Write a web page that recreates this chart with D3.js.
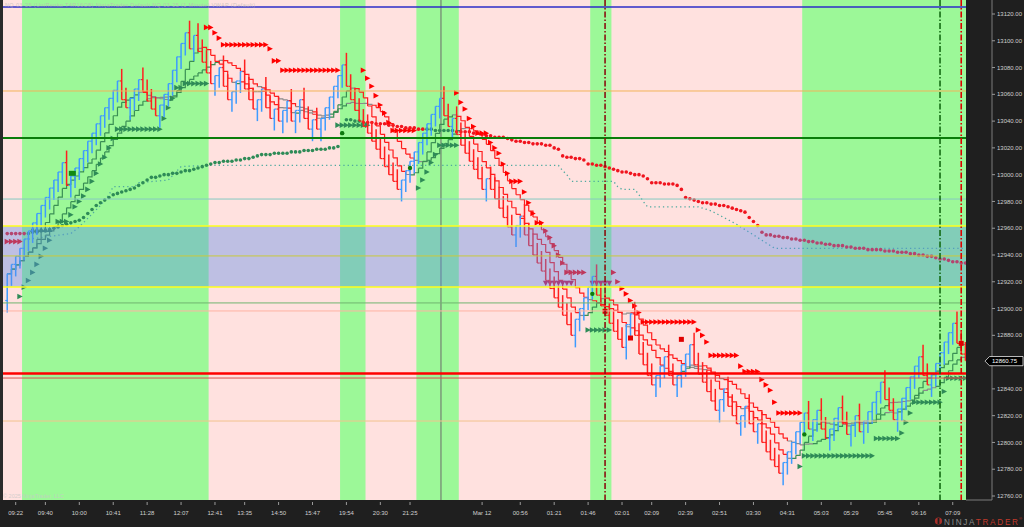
<!DOCTYPE html>
<html><head><meta charset="utf-8">
<script src="https://cdn.jsdelivr.net/npm/d3@7"></script>
<style>html,body{margin:0;padding:0;background:#1f1f1f;overflow:hidden}svg{display:block;font-family:"Liberation Sans",Arial,sans-serif}</style>
</head><body><svg id="c" width="1024" height="527"></svg>
<script>
// ---------------- DATA ----------------
const closes = [
 12926,12933,12939,12945,12952,12958,12964,12971,12977,12983,
 12990,12996,13002,13009,12992,12999,13005,13012,13018,13025,
 13031,13038,13044,13050,13057,13063,13070,13056,13050,13057,
 13064,13071,13062,13055,13049,13044,13052,13060,13068,13078,
 13088,13098,13106,13094,13104,13092,13084,13076,13068,13074,
 13080,13066,13056,13062,13070,13077,13064,13056,13049,13056,
 13064,13050,13042,13049,13040,13048,13055,13040,13048,13056,
 13042,13034,13041,13034,13042,13050,13058,13066,13074,13082,
 13066,13056,13048,13040,13036,13031,13025,13019,13012,13006,
 13000,12995,12989,12996,13003,13010,13017,13024,13031,13038,
 13045,13051,13057,13044,13036,13042,13030,13022,13016,13010,
 13004,12997,12989,12997,12989,12982,12975,12968,12961,12955,
 12962,12969,12955,12947,12940,12934,12928,12921,12915,12908,
 12901,12895,12888,12880,12892,12900,12908,12916,12924,12910,
 12902,12895,12889,12883,12877,12871,12888,12896,12880,12866,
 12858,12850,12843,12850,12857,12864,12850,12843,12850,12858,
 12866,12873,12858,12851,12845,12838,12831,12824,12832,12840,
 12827,12820,12814,12820,12827,12814,12808,12814,12800,12793,
 12787,12782,12777,12785,12793,12800,12808,12815,12822,12810,
 12817,12824,12810,12803,12810,12818,12826,12814,12806,12813,
 12820,12808,12816,12823,12830,12838,12845,12832,12824,12817,
 12825,12833,12841,12849,12857,12864,12850,12843,12851,12859,
 12867,12875,12882,12889,12874,12866,12861];
const firstOpen = 12906;

const vwap = [
 12956,12956,12956,12956,12956,12956,
 12957,12957,12958,12958,12959,12960,12961,12962,12963,12964,12965,12966,12968,12971,
 12974,12977,12979,12981,12983,12985,12986,12987,12988,12989,12990,12992,12994,12996,
 12998,12998,12999,13000,13000,13001,13001,13002,13003,13003,13004,13005,13006,13007,
 13008,13009,13009,13010,13010,13010,13011,13011,13012,13012,13013,13014,13015,13015,
 13015,13016,13016,13016,13016,13017,13017,13017,13018,13018,13018,13019,13019,13019,
 13020,13020,13021,
 13031,
 13041,13041,13040,13040,13039,13039,13039,13038,13038,13038,13037,13037,13036,13036,13035,13035,13035,
 13034,13034,13034,13034,13033,13033,13033,13033,13033,13032,13032,13032,13032,
 13031,13031,13030,
 13029,13029,13028,13028,13028,13027,
 13026,13025,13025,13024,
 13024,13023,13023,13023,13022,13022,
 13020,13019,
 13014,13013,13013,13012,13012,13011,
 13008,13008,13007,13007,13006,
 13005,13004,
 13003,13002,13002,
 13001,13000,13000,12999,
 12997,
 12994,12994,12994,12993,12993,12993,12992,
 12989,
 12983,12982,12981,12980,
 12979,12979,12978,12978,12977,12977,12976,
 12975,12974,12973,12972,
 12968,12965,12962,
 12957,
 12955,12955,12954,12954,12953,12953,12952,12952,
 12951,12951,12950,12950,12949,12949,
 12948,12948,12947,12947,12947,12946,12946,
 12945,12945,12945,12944,12944,12944,12944,
 12943,12943,12943,12942,12942,12942,
 12941,12941,12940,12940,12939,12939,
 12938,12937,12937,12936,
 12935,12935,12934,12934];

// teal reference line vertices [bar, price]
const tealLine = [[3,12951],[15,12956],[17,12961],[22,12977],[24,12985],[25,12991],[30,12991],[31,12994],
 [38,12996],[41,13006],[47,13007],[130,13007],[131,13003],[132,13000],[133,12995],[143,12995],[144,12991],
 [145,12989],[148,12989],[149,12985],[150,12980],[151,12976],[163,12976],[166,12973],[169,12968],[172,12963],
 [176,12955],[179,12949],[181,12945],[226,12945]];

// trailing stop runs [fromBar, toBar, price]
const redTrail = [[0,3,12950],[47,48,13110],[49,49,13106],[50,50,13102],[51,61,13097],[62,62,13094],[63,64,13085],
 [65,78,13078],[84,84,13078],[85,85,13072],[86,86,13066],[87,87,13059],[88,88,13052],[89,89,13046],[90,90,13039],
 [91,96,13033],[106,106,13061],[107,107,13054],[108,108,13049],[109,109,13042],[110,110,13036],[111,113,13031],
 [114,114,13024],[115,115,13020],[116,116,13016],[117,117,13008],[118,118,13001],[119,121,12995],[122,122,12987],
 [123,123,12979],[124,124,12971],[125,126,12964],[127,127,12958],[128,128,12953],[129,129,12947],[130,130,12940],
 [131,131,12934],[132,136,12927],[143,143,12927],[144,144,12920],[145,145,12915],[146,146,12911],[147,147,12906],
 [148,148,12902],[149,149,12897],[150,162,12890],[163,163,12884],[164,164,12880],[165,165,12875],[166,172,12865],
 [173,173,12857],[174,177,12853],[178,178,12847],[179,179,12843],[180,180,12839],[181,181,12830],[182,187,12822]];
const greenTrail = [[3,3,12909],[4,4,12916],[5,5,12921],[6,6,12927],[7,7,12933],[8,8,12939],[9,9,12945],[10,10,12951],
 [12,14,12965],[15,15,12970],[16,16,12976],[17,17,12980],[18,18,12984],[19,19,12989],[20,20,12995],[21,21,13001],
 [22,22,13008],[23,23,13013],[24,24,13020],[25,25,13027],[26,36,13034],[37,37,13042],[38,38,13050],[39,39,13057],
 [40,41,13065],[42,47,13068],[78,85,13037],[97,97,12990],[98,98,12996],[99,99,13002],[100,100,13009],[101,101,13015],
 [102,106,13022],[137,142,12884],[187,187,12782],[188,204,12790],[205,210,12803],[211,211,12807],[212,212,12815],
 [213,213,12822],[214,220,12830],[221,221,12838],[222,226,12848]];
const greenCluster = [[6,10,12959]];
const redCluster = [[127,133,12919],[138,142,12919]];
const sellFlags = [[141,12898],[147,12878],[159,12877],[225,12874]];
const buyFlags = [[15,13001]];
const markDots = [[95,13005],[138,12911],[188,12806],[79,13031]];

const sessionBands = [[4,47],[79,84],[97,106],[138,142],[188,226]];
const levelPrices = [13125.2,13062.5,13027.4,12981.8,12939.3,12904.2,12898.2,12851.5,12848.1,12816.0];
const zoneTop = 12961.7, zoneBottom = 12916.1;
const vLines = [102.3,141,220,225];

const priceTicks = [12760,12780,12800,12820,12840,12860,12880,12900,12920,12940,12960,12980,13000,13020,13040,13060,13080,13100,13120];
const tickBars = [2,9,17,25,33,41,49,56,64,72,80,88,95,112,121,129,137,145,152,160,168,176,184,192,199,207,215,223];
const tickLabels = ["09:22","09:40","10:00","10:41","11:28","12:07","12:41","13:35","14:50","15:47","19:54","20:30","21:25","Mar 12","00:56","01:21","01:46","02:01","02:09","02:39","02:51","03:30","04:31","05:03","05:29","05:45","06:16","07:09"];
const lastPrice = 12860.75;

// ---------------- STYLES ----------------
const levelStyle = [
 {c:"#2d2dc8",w:1.4},{c:"#f3b45a",w:1},{c:"#0a7d0a",w:2},{c:"#86c9c2",w:1},{c:"#c9c93c",w:1},
 {c:"#6fb46f",w:1},{c:"#ffb2a4",w:1},{c:"#ff0000",w:2.6},{c:"#d85050",w:1},{c:"#f2c48e",w:1}];
const vStyle = [{c:"#6a6a6a",w:1,d:null},{c:"#8a1212",w:1.6,d:"6,2,1.5,2"},{c:"#146b14",w:1.6,d:"6,2,1.5,2"},{c:"#e00000",w:1.6,d:"6,2,1.5,2"}];

// ---------------- CHART ----------------
const svg = d3.select("#c");
const PL = 3, PR = 966, PT = 0, PB = 500;
const x = d3.scaleLinear().domain([0, 226]).range([7.22, 965.46]);
const y = d3.scaleLinear().domain([12760, 13120]).range([496, 14]);

svg.append("rect").attr("width", 1024).attr("height", 527).attr("fill", "#1f1f1f");
svg.append("defs").append("clipPath").attr("id", "pc")
  .append("rect").attr("x", PL).attr("y", PT).attr("width", PR - PL).attr("height", PB - PT);
const g = svg.append("g").attr("clip-path", "url(#pc)");

g.append("rect").attr("x", PL).attr("y", PT).attr("width", PR - PL).attr("height", PB - PT).attr("fill", "#ffe1df");
g.selectAll(".band").data(sessionBands).join("rect")
  .attr("x", d => x(d[0] - 0.5)).attr("width", d => x(d[1] + 0.5) - x(d[0] - 0.5))
  .attr("y", PT).attr("height", PB - PT).attr("fill", "#9cf898");

// crosshair vertical (under)
g.append("line").attr("x1", x(vLines[0])).attr("x2", x(vLines[0])).attr("y1", PT).attr("y2", PB)
  .attr("stroke", vStyle[0].c).attr("stroke-width", vStyle[0].w);

// teal dotted line
g.append("path").datum(tealLine)
  .attr("d", d3.line().x(d => x(d[0])).y(d => y(d[1])))
  .attr("fill", "none").attr("stroke", "#4faaa0").attr("stroke-width", 1.3).attr("stroke-dasharray", "1.3,3");

// VWAP dots
g.selectAll(".vw").data(vwap.map((v, i) => ({i, v}))).join("circle")
  .attr("cx", d => x(d.i)).attr("cy", d => y(d.v)).attr("r", 1.8)
  .attr("fill", d => closes[d.i] >= d.v ? "#2e8b57" : "#f0141e");

// moving averages (stepped, colored by slope)
function sma(n) { return closes.map((c, i) => d3.mean(closes.slice(Math.max(0, i - n + 1), i + 1))); }
const maFast = sma(7), maSlow = sma(13);
[maSlow, maFast].forEach(ma => {
  const segs = ma.slice(1).map((v, k) => ({i: k + 1, a: ma[k], b: v}));
  g.selectAll(null).data(segs).join("path")
    .attr("d", d => `M${x(d.i - 1)},${y(d.a)}H${x(d.i)}V${y(d.b)}`)
    .attr("fill", "none").attr("stroke-width", 1.2)
    .attr("stroke", d => d.b - d.a > 1.2 ? "#3a8f55" : (d.b - d.a < -1.2 ? "#ff1c1c" : "#8a8a8a"));
});

// trailing-stop triangles
function expand(runs) { const out = []; runs.forEach(r => { for (let i = r[0]; i <= r[1]; i++) out.push([i, r[2]]); }); return out; }
const triR = d => `M${x(d[0]) - 2.6},${y(d[1]) - 2.8}L${x(d[0]) + 2.8},${y(d[1])}L${x(d[0]) - 2.6},${y(d[1]) + 2.8}Z`;
const triU = d => `M${x(d[0]) - 2.8},${y(d[1]) + 2.4}L${x(d[0])},${y(d[1]) - 2.8}L${x(d[0]) + 2.8},${y(d[1]) + 2.4}Z`;
const triD = d => `M${x(d[0]) - 2.8},${y(d[1]) - 2.4}L${x(d[0])},${y(d[1]) + 2.8}L${x(d[0]) + 2.8},${y(d[1]) - 2.4}Z`;
g.selectAll(".rt").data(expand(redTrail)).join("path").attr("d", triR).attr("fill", "#ff0000");
g.selectAll(".gt").data(expand(greenTrail)).join("path").attr("d", triR).attr("fill", "#2e8b57");
g.selectAll(".gc").data(expand(greenCluster)).join("path").attr("d", triU).attr("fill", "#2e8b57");
g.selectAll(".rc").data(expand(redCluster)).join("path").attr("d", triD).attr("fill", "#d01040");

// bars
const EXT = 9;
const bars = closes.map((c, i) => {
  const o = i ? closes[i - 1] : firstOpen;
  const up = c >= o;
  return {i, o, c, up, lo: up ? o - EXT : c, hi: up ? c : o + EXT};
});
const bg = g.append("g");
bg.selectAll(".bar").data(bars).join("line")
  .attr("x1", d => x(d.i)).attr("x2", d => x(d.i)).attr("y1", d => y(d.lo)).attr("y2", d => y(d.hi))
  .attr("stroke", d => d.up ? "#3d9bff" : "#ff1f1f").attr("stroke-width", 1.5);
bg.selectAll(".ot").data(bars).join("line")
  .attr("x1", d => x(d.i) - 2).attr("x2", d => x(d.i)).attr("y1", d => y(d.o)).attr("y2", d => y(d.o))
  .attr("stroke", d => d.up ? "#3d9bff" : "#ff1f1f").attr("stroke-width", 1.2);
bg.selectAll(".ct").data(bars).join("line")
  .attr("x1", d => x(d.i)).attr("x2", d => x(d.i) + 2).attr("y1", d => y(d.c)).attr("y2", d => y(d.c))
  .attr("stroke", d => d.up ? "#3d9bff" : "#ff1f1f").attr("stroke-width", 1.2);

// signal markers
g.selectAll(".sf").data(sellFlags).join("rect")
  .attr("x", d => x(d[0]) - 2.5).attr("y", d => y(d[1]) - 2.5).attr("width", 5).attr("height", 5).attr("fill", "#e00000");
g.selectAll(".bf").data(buyFlags).join("rect")
  .attr("x", d => x(d[0]) - 2).attr("y", d => y(d[1]) - 2.5).attr("width", 7).attr("height", 5).attr("fill", "#128a12");
g.selectAll(".md").data(markDots).join("circle")
  .attr("cx", d => x(d[0])).attr("cy", d => y(d[1])).attr("r", 2.2).attr("fill", "#0d7a0d");

// zone overlay
g.append("rect").attr("x", PL).attr("width", PR - PL).attr("y", y(zoneTop)).attr("height", y(zoneBottom) - y(zoneTop))
  .attr("fill", "rgb(92,140,232)").attr("fill-opacity", 0.4);

// horizontal levels
g.selectAll(".lv").data(levelPrices).join("line")
  .attr("x1", PL).attr("x2", PR).attr("y1", d => y(d)).attr("y2", d => y(d))
  .attr("stroke", (d, k) => levelStyle[k].c).attr("stroke-width", (d, k) => levelStyle[k].w);
g.selectAll(".zb").data([zoneTop, zoneBottom]).join("line")
  .attr("x1", PL).attr("x2", PR).attr("y1", d => y(d)).attr("y2", d => y(d))
  .attr("stroke", "#ffff1a").attr("stroke-width", 1.6);

// dash-dot verticals
g.selectAll(".vl").data(vLines.slice(1)).join("line")
  .attr("x1", d => x(d)).attr("x2", d => x(d)).attr("y1", PT).attr("y2", PB)
  .attr("stroke", (d, k) => vStyle[k + 1].c).attr("stroke-width", (d, k) => vStyle[k + 1].w)
  .attr("stroke-dasharray", (d, k) => vStyle[k + 1].d);

// faint texts
g.append("text").attr("x", 5).attr("y", 7).attr("font-size", 5.5).attr("fill", "#b9b4b4").attr("fill-opacity", 0.7)
  .attr("textLength", 250).text("NQ 03-25 (UniRenko T4R16O8)  NinjaTrader Default  NQ 03-25 (1 Minute)  VWAP (Default)");
g.append("text").attr("x", 3).attr("y", 498).attr("font-size", 5.5).attr("fill", "#c8c8c8").attr("fill-opacity", 0.8)
  .text("© 2025 NinjaTrader, LLC");

// left dark strip
svg.append("rect").attr("x", 0).attr("y", 0).attr("width", PL).attr("height", PB).attr("fill", "#2a2a2a");

// ---------------- AXES ----------------
const ax = svg.append("g");
const ly = y(lastPrice);
ax.append("line").attr("x1", 992).attr("x2", 992).attr("y1", 0).attr("y2", PB).attr("stroke", "#7d7d7d").attr("stroke-width", 1);
ax.append("line").attr("x1", PR).attr("x2", 992).attr("y1", PB).attr("y2", PB).attr("stroke", "#7d7d7d").attr("stroke-width", 1);
ax.selectAll(".pt").data(priceTicks).join("line")
  .attr("x1", 992).attr("x2", 995).attr("y1", d => y(d)).attr("y2", d => y(d)).attr("stroke", "#9a9a9a");
// labels hidden behind the last-price marker are not drawn (as in the reference)
ax.selectAll(".pl").data(priceTicks.filter(d => Math.abs(y(d) - ly) > 8)).join("text")
  .attr("x", 997).attr("y", d => y(d) + 2.1).attr("font-size", 6).attr("fill", "#cfcfcf").text(d => d.toFixed(2));

// last price marker
ax.append("path").attr("d", `M985,${ly}L989.5,${ly - 4.6}H1023V${ly + 4.6}H989.5Z`)
  .attr("fill", "#000").attr("stroke", "#e6e6e6").attr("stroke-width", 0.8);
ax.append("text").attr("x", 992).attr("y", ly + 2.1).attr("font-size", 6).attr("fill", "#fff").text(lastPrice.toFixed(2));

// time axis
ax.selectAll(".xt").data(tickBars).join("line")
  .attr("x1", d => x(d)).attr("x2", d => x(d)).attr("y1", PB + 2).attr("y2", PB + 5).attr("stroke", "#9a9a9a");
ax.selectAll(".xl").data(tickBars).join("text")
  .attr("x", d => x(d)).attr("y", PB + 15).attr("text-anchor", "middle").attr("font-size", 6).attr("fill", "#cfcfcf")
  .text((d, k) => tickLabels[k]);

// logo
const lg = svg.append("g");
lg.append("circle").attr("cx", 938.5).attr("cy", 521).attr("r", 3.6).attr("fill", "#a8302a");
lg.append("rect").attr("x", 937.6).attr("y", 518).attr("width", 1.8).attr("height", 6).attr("fill", "#1f1f1f");
const lt = lg.append("text").attr("x", 944).attr("y", 524.5).attr("font-size", 8.2).attr("textLength", 74)
  .attr("lengthAdjust", "spacing");
lt.append("tspan").attr("fill", "#8c8c8c").text("NINJA");
lt.append("tspan").attr("fill", "#c0392b").text("TRADER");
lg.append("text").attr("x", 1019).attr("y", 520).attr("font-size", 4).attr("fill", "#c0392b").text("®");
</script></body></html>
